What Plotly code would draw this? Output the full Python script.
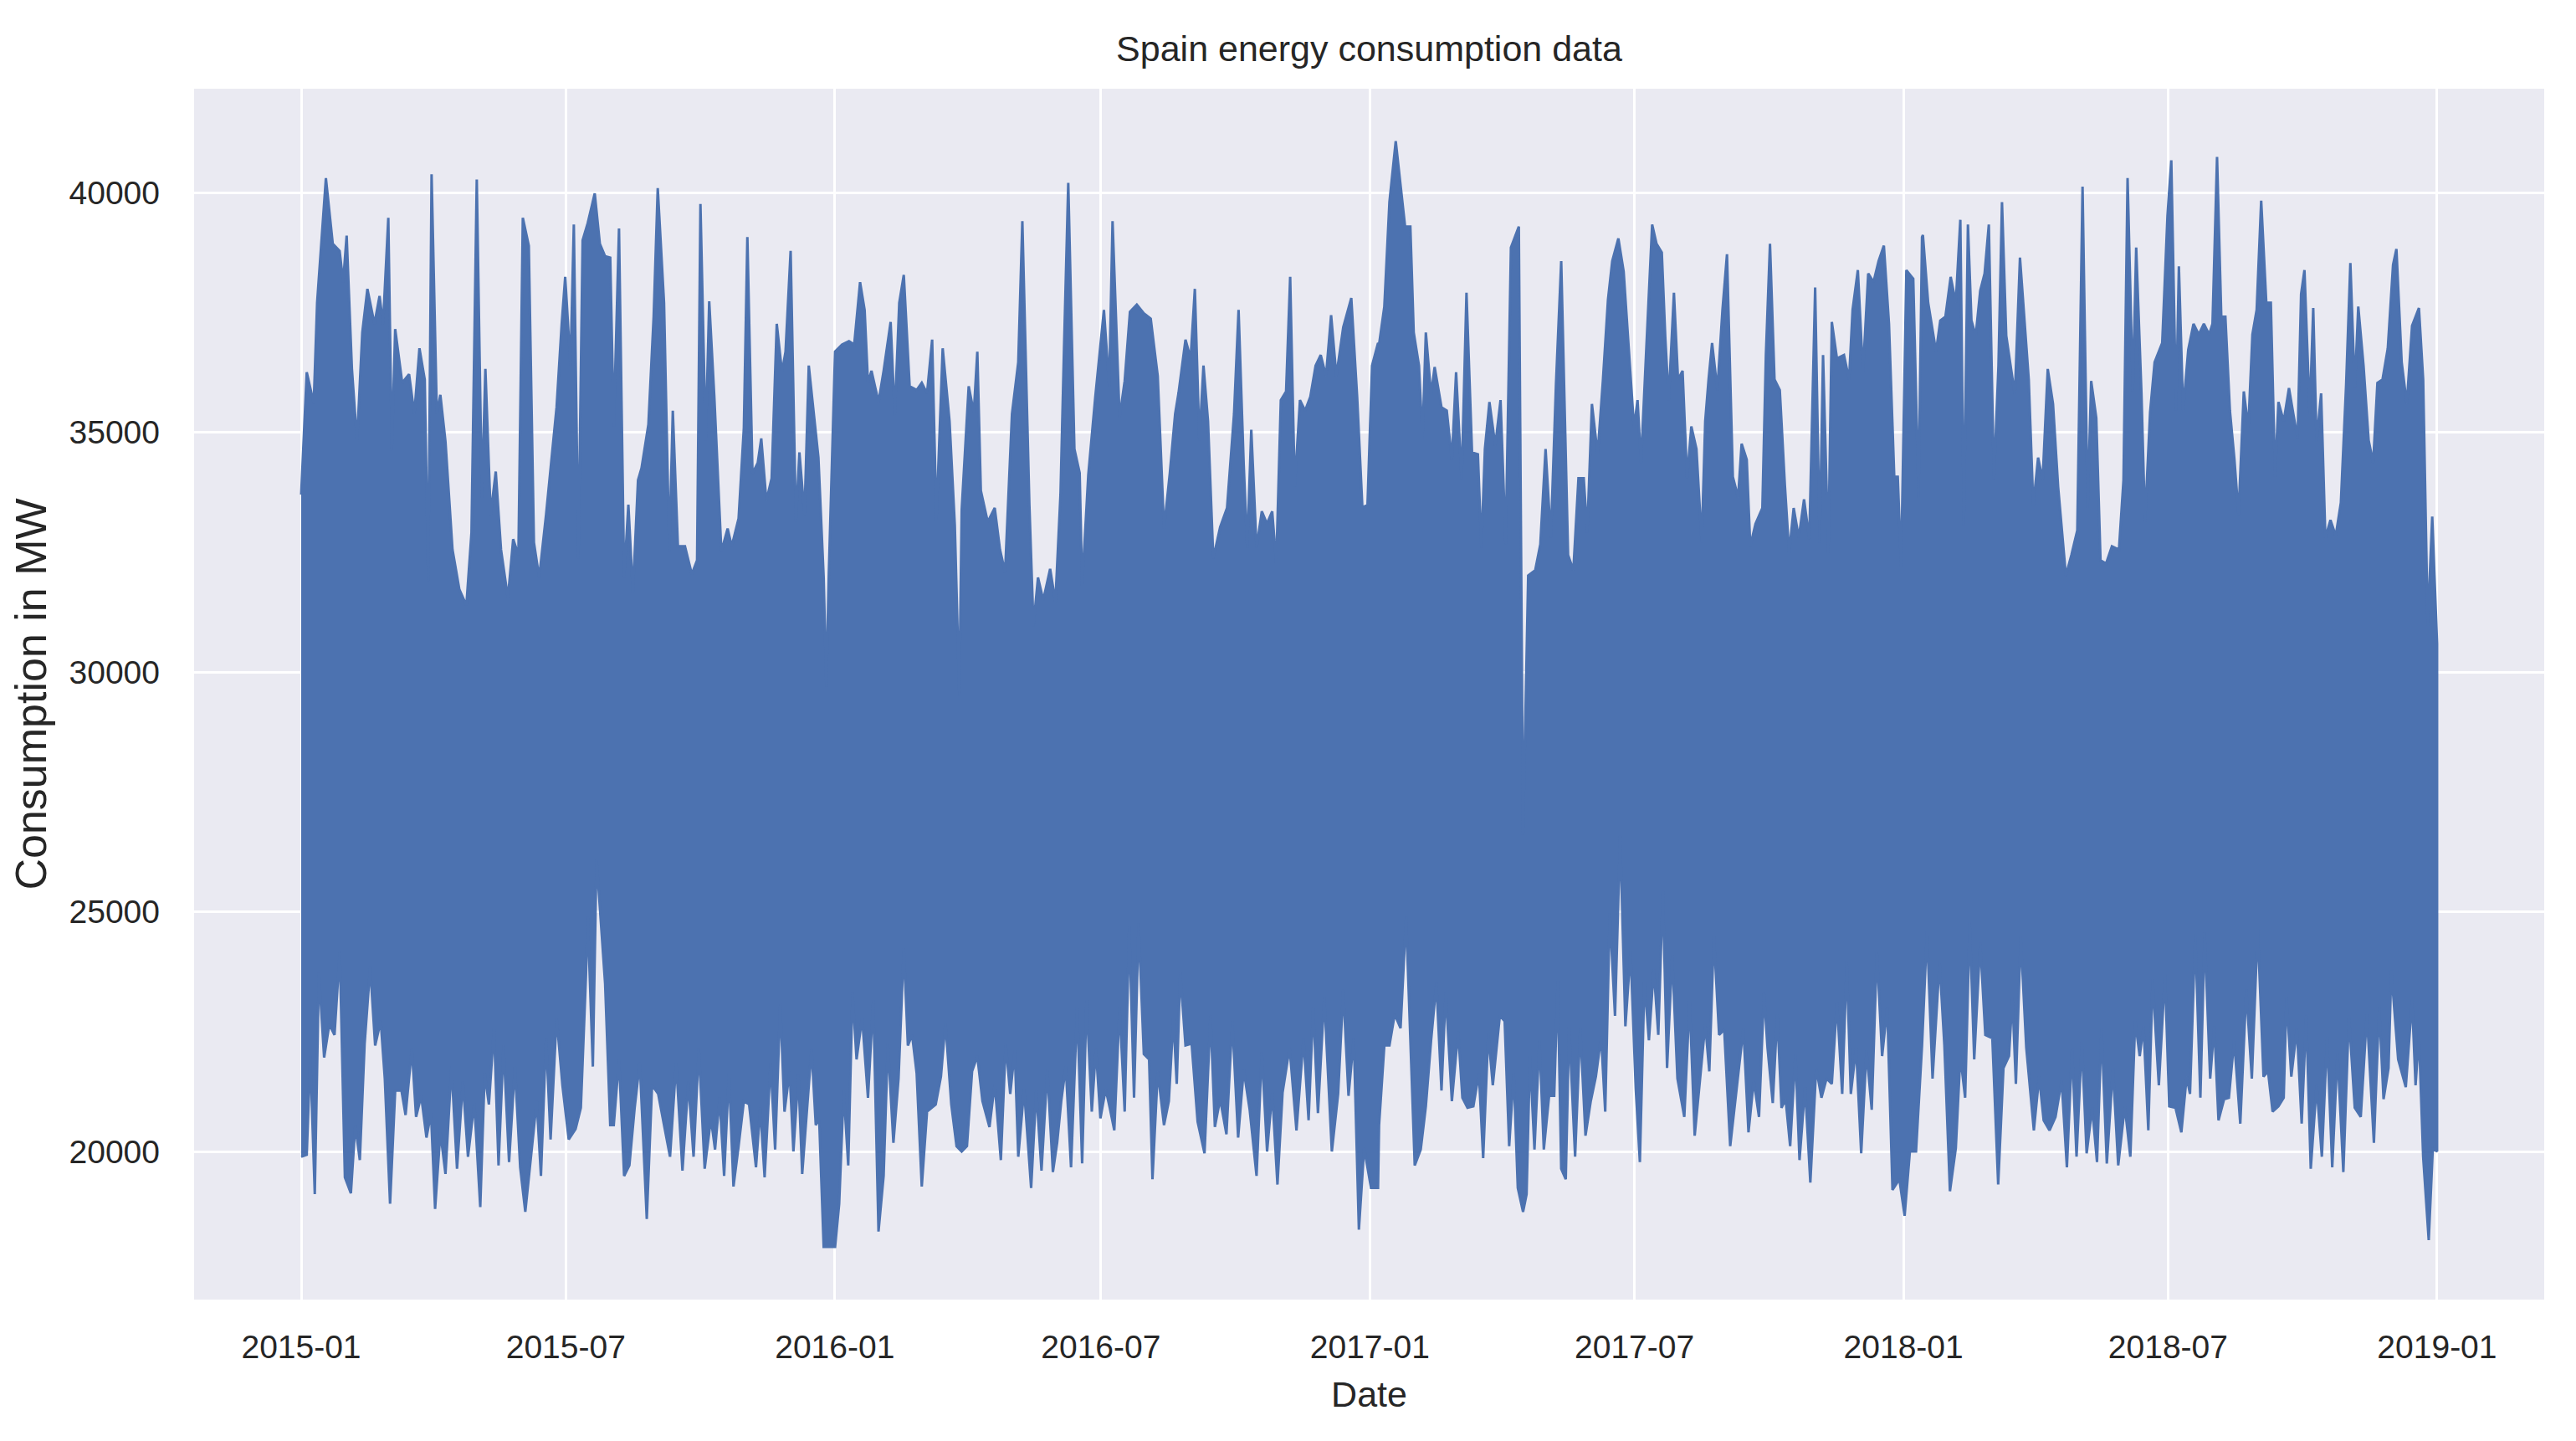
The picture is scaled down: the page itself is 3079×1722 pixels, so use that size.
import pandas as pd
import plotly.graph_objects as go

# ---- data (hourly load, shown as its upper/lower envelope)
# day offsets from 2015-01-01, consumption in MW
upper_days = [
    0, 3.8, 8.6, 10.9, 16.9, 21.6, 26.3, 28.7, 31.1, 34.7, 38.2, 41.8, 45.3, 50.1, 53.6, 56.0,
    59.6, 62.0, 64.3, 69.1, 73.8, 77.4, 80.9, 84.5, 86.9, 89.2, 92.8, 95.2, 98.7, 103.5, 108.2,
    113.0, 116.5, 120.1, 123.6, 126.0, 129.6, 133.1, 136.7, 141.4, 145.0, 148.6, 151.6, 155.7,
    159.2, 162.8, 167.5, 171.1, 174.7, 178.2, 180.6, 184.2, 186.5, 189.6, 192.5, 196.0, 200.8,
    204.3, 207.9, 211.4, 213.8, 217.4, 220.9, 223.8, 226.9, 230.4, 232.8, 237.5, 241.1, 243.9,
    248.2, 251.8, 254.2, 257.7, 262.5, 267.2, 270.8, 273.1, 276.7, 279.1, 282.6, 287.4, 291.7,
    294.5, 299.2, 302.8, 305.2, 308.7, 312.3, 314.7, 318.2, 321.8, 325.3, 328.9, 331.3, 334.8,
    338.4, 340.8, 344.3, 347.2, 350.3, 353.8, 357.4, 359.2, 360.9,
    365.2, 370.0, 374.7, 378.3, 382.3, 385.4, 387.7, 390.1, 394.9, 398.4, 403.2, 406.0, 409.1,
    412.2, 416.2, 421.0, 424.5, 428.1, 431.6, 434.5, 438.8, 443.5, 447.1, 450.2, 451.8, 456.6, 460.1,
    462.5, 464.9, 469.6, 474.4, 478.0, 481.5, 486.2, 490.5, 493.3, 498.1, 500.9, 504.0, 507.6,
    512.3, 515.9, 519.4, 521.8, 524.7, 528.9, 532.5, 534.2, 538.4, 543.2, 549.1, 552.7, 555.0,
    559.8, 563.3, 566.9, 571.6, 576.4, 581.1, 585.9, 590.2, 594.2, 597.8, 600.1, 604.9, 608.4,
    611.3, 614.4, 617.2, 620.3, 623.9, 628.6, 633.3, 638.1, 641.2, 644.7, 647.1, 649.9, 653.5,
    657.1, 660.6, 664.2, 667.0, 670.1, 673.7, 676.5, 679.6, 683.2, 686.7, 690.3, 693.9, 697.4,
    701.0, 704.5, 708.1, 712.8, 718.3, 722.3, 725.9, 729.4, 732.5, 736.6,
    737.3, 740.9, 744.4, 748.7, 752.0, 755.1, 758.7, 761.0, 764.6, 767.0, 769.3, 772.9, 775.3,
    780.0, 783.6, 787.1, 790.0, 793.8, 797.1, 800.9, 804.9, 807.3, 809.7, 812.8, 816.8, 820.4,
    823.9, 827.5, 832.9, 835.8, 839.3, 844.1, 847.6, 851.2, 854.8, 858.3, 861.9, 866.6, 870.2,
    873.7, 877.3, 879.7, 882.9, 886.8, 890.4, 893.9, 896.8, 901.0, 904.6, 908.2, 911.7, 914.1,
    916.5, 920.0, 924.1, 927.1, 930.7, 933.1, 935.4, 939.0, 941.8, 944.9, 948.0, 950.9, 954.4,
    958.0, 960.4, 962.7, 965.1, 968.7, 972.2, 975.3, 979.3, 982.9, 985.3, 988.8, 991.2, 994.8,
    999.5, 1001.9, 1004.7, 1007.8, 1011.4, 1014.9, 1017.8, 1020.9, 1024.4, 1028.0, 1031.6,
    1035.6, 1038.7, 1041.0, 1044.6, 1047.0, 1050.5, 1055.3, 1058.8, 1061.2, 1064.8, 1068.3,
    1071.9, 1075.5, 1079.0, 1082.6, 1086.1, 1089.7, 1092.1, 1094.4, 1098.0, 1102.7, 1106.3, 1108.7,
    1109.3, 1112.9, 1115.2, 1118.3, 1121.2, 1124.7, 1128.3, 1131.8, 1134.9, 1137.3, 1140.1,
    1142.5, 1145.4, 1148.5, 1151.5, 1154.4, 1157.9, 1161.0, 1163.4, 1166.3, 1169.8, 1172.2,
    1175.7, 1178.6, 1181.7, 1184.8, 1188.1, 1191.2, 1194.7, 1198.3, 1201.8, 1207.1, 1210.9,
    1214.9, 1218.5, 1222.0, 1224.4, 1227.9, 1230.8, 1234.6, 1238.6, 1243.4, 1246.5, 1249.3,
    1252.9, 1255.2, 1258.8, 1261.2, 1264.7, 1267.8, 1273.0, 1276.6, 1279.2, 1282.5, 1284.4,
    1287.3, 1290.8, 1294.4, 1298.0, 1301.5, 1305.1, 1307.4, 1310.5, 1313.4, 1316.2, 1319.3,
    1322.4, 1325.2, 1328.8, 1331.9, 1334.7, 1337.6, 1340.7, 1344.2, 1347.3, 1350.2, 1352.5,
    1356.1, 1359.7, 1362.7, 1365.6, 1368.0, 1370.3, 1373.9, 1376.3, 1378.6, 1381.7, 1384.6,
    1388.1, 1391.7, 1395.2, 1398.8, 1401.7, 1404.7, 1407.1, 1410.7, 1414.2, 1417.3, 1420.2,
    1423.7, 1427.3, 1430.9, 1433.2, 1436.8, 1440.3, 1443.9, 1448.6, 1451.5, 1454.6, 1457.7, 1461.0,
]
upper_mw = [
    33700, 36250, 35600, 37700, 40300, 38930, 38780, 38130, 39100, 36320, 34800, 37080, 37990, 37260, 37840, 37260,
    39470, 34620, 37150, 36030, 36210, 35380, 36750, 36100, 31900, 40380, 35380, 35780, 34800, 32550, 31720,
    31390, 32910, 40270, 33640, 36320, 33280, 34180, 32550, 31540, 32770, 32440, 39470, 38890,
    32700, 31970, 33280, 34430, 35520, 37260, 38240, 36390, 39330, 32370, 39000, 39360, 39980,
    38930, 38670, 38640, 35120, 39250, 31970, 33490, 31650, 34000, 34250, 35160, 37410, 40090,
    37700, 32510, 35450, 32620, 32620, 32040, 32330, 39760, 34830, 37730, 35740, 32510, 32990,
    32620, 33200, 35090, 39070, 34140, 34360, 34870, 33570, 34040, 37260, 36250, 36680, 38780,
    33130, 34580, 33280, 36390, 35450, 34470, 31970, 29700, 32040,
    36680, 36830, 36900, 36830, 38130, 37550, 36030, 36280, 35630, 36280, 37300, 35340, 37700,
    38280, 35960, 35880, 36030, 35810, 36930, 33170, 36750, 35230, 33060, 29500, 33380, 35960, 35410,
    36680, 33780, 33130, 33420, 32550, 32080, 35380, 36460, 39400, 33490, 30960, 31970, 31500,
    32150, 31460, 33710, 36750, 40200, 34650, 34150, 31790, 34110, 35740, 37550, 35960, 39400,
    35300, 36070, 37510, 37660, 37480, 37370, 36170, 32990, 34150, 35380, 35810, 36930, 36540,
    37990, 34830, 36390, 35230, 32370, 33020, 33420, 35380, 37550, 34330, 32590, 35050, 32590,
    33350, 33090, 33350, 32260, 35670, 35850, 38240, 33860, 35670, 35450, 35740, 36390, 36610,
    36170, 37440, 36170, 37190, 37800, 35740, 33420, 33490, 36390, 36860,
    36830, 37620, 39800, 41070, 40160, 39290, 39290, 37080, 36390, 34870, 37080, 35780, 36360,
    35520, 35450, 34430, 36250, 34000, 37910, 34580, 34540, 32590, 34650, 35630, 34720, 35670,
    32660, 38850, 39290, 26600, 32010, 32120, 32660, 34650, 32800, 35990, 38570, 32440, 32120,
    34040, 34040, 32910, 35590, 34540, 36070, 37770, 38570, 39040, 38350, 36750, 35090, 35670,
    34360, 36680, 39330, 38930, 38750, 36970, 35670, 37910, 36100, 36280, 34040, 35120, 34650,
    32700, 35230, 36100, 36860, 35880, 37550, 38710, 34070, 33640, 34760, 34430, 32620, 33090,
    33420, 36610, 38930, 36100, 35880, 33890, 32480, 33420, 32800, 33600, 32770,
    38020, 32700, 36610, 32480, 37300, 36540, 36610, 36100, 37550, 38380, 36250,
    38310, 38130, 38570, 38890, 37260, 34070, 34070, 32190, 38380, 38200, 33640, 39070,
    39110, 37700, 37260, 36680, 37330, 37410, 38240, 37700, 39430, 33060, 39330,
    37330, 37010, 37950, 38310, 39330, 34000, 36390, 39800, 37010, 36280, 35780,
    38640, 37330, 36100, 33460, 34470, 34000, 36320, 35590, 33860, 32010, 32440,
    32950, 40120, 33420, 36070, 35300, 32330, 32260, 32620, 32550, 34000, 40300,
    35850, 38850, 35810, 33130, 35410, 36460, 36860, 39510, 40670, 35450, 38460,
    35450, 36720, 37260, 37040, 37260, 37040, 37260, 40740, 37410, 37410, 35450,
    34430, 33280, 35850, 35090, 37040, 37550, 39830, 37700, 37700, 34070, 35630,
    35230, 35920, 35380, 34870, 37880, 38380, 35380, 37590, 34800, 35810, 32800,
    33170, 32840, 33530, 35990, 38530, 35920, 37620, 36390, 34830, 34360, 36030,
    36100, 36750, 38490, 38820, 36460, 35590, 37220, 37590, 36100, 30960, 33240, 30590,
]

lower_days = [
    0, 3.8, 6.2, 9.3, 12.1, 15.7, 19.2, 22.8, 26.4, 29.9, 34.0, 37.0, 40.1, 43.4, 47.2, 50.6,
    54.4, 57.2, 60.8, 64.3, 68.6, 71.4, 75.7, 78.6, 82.1, 85.7, 88.8, 91.6, 95.2, 98.7, 102.8,
    106.6, 110.6, 114.1, 118.4, 122.5, 125.5, 128.4, 131.9, 135.0, 138.4, 142.2, 146.2, 149.8,
    153.3, 156.9, 161.1, 164.0, 167.5, 170.6, 174.7, 178.7, 183.0, 187.7, 191.3, 194.8, 196.0,
    199.5, 202.0, 207.9, 211.4, 213.8, 217.4, 220.9, 224.5, 228.1, 231.6, 236.4, 240.0, 244.2,
    248.2, 252.3, 256.5, 260.8, 264.8, 268.4, 272.0, 276.0, 280.3, 283.1, 286.2, 289.3, 292.6,
    295.7, 299.2, 302.8, 306.4, 311.1, 314.0, 317.0, 321.1, 324.2, 327.7, 330.6, 334.1, 336.7,
    340.1, 342.7, 346.2, 349.1, 352.0, 354.3, 357.4, 363.3,
    365.2, 368.0, 371.1, 374.2, 377.1, 379.9, 383.7, 387.7, 391.3, 394.9, 398.4, 401.3, 405.1,
    408.6, 412.2, 415.0, 417.9, 421.0, 424.5, 428.1, 434.0, 437.6, 440.7, 444.7, 448.3, 451.8,
    455.4, 458.9, 462.5, 466.0, 470.8, 474.4, 478.6, 481.9, 485.0, 488.1, 490.5, 494.5, 499.3,
    502.8, 506.4, 510.4, 514.2, 517.1, 519.9, 523.0, 526.6, 530.8, 534.2, 537.2, 540.8, 543.6,
    546.7, 550.3, 553.1, 556.2, 559.8, 563.3, 566.4, 569.7, 572.8, 576.4, 580.0, 582.3, 585.9,
    590.2, 593.5, 596.6, 598.9, 601.3, 604.9, 609.1, 613.2, 617.9, 622.0, 625.0, 628.6, 632.9,
    636.9, 640.9, 644.7, 648.8, 653.5, 657.1, 660.7, 664.2, 667.8, 671.3, 676.1, 680.8, 685.6,
    689.1, 692.2, 695.5, 699.8, 705.0, 709.3, 712.8, 716.4, 720.0, 723.5, 727.1, 731.8, 736.6,
    737.3, 740.9, 744.4, 748.0, 752.0, 755.8, 758.7, 761.7, 765.8, 769.3, 772.9, 776.5, 780.0,
    782.9, 787.1, 791.4, 794.3, 797.8, 801.8, 805.6, 808.5, 812.0, 815.1, 819.9, 823.2, 826.3,
    829.4, 832.2, 835.8, 838.2, 840.5, 843.6, 847.0, 850.0, 853.6, 857.1, 859.5, 861.9, 865.0,
    867.3, 871.4, 874.9, 878.5, 882.1, 885.6, 889.2, 892.0, 895.1, 898.7, 902.2, 905.8, 909.3,
    912.9, 915.7, 918.8, 921.9, 925.2, 928.3, 931.4, 934.3, 937.8, 941.4, 946.1, 949.7, 953.2,
    956.8, 960.4, 963.2, 966.3, 969.9, 973.4, 977.5, 981.7, 986.5, 990.0, 993.6, 997.2, 1000.6,
    1003.0, 1006.6, 1009.7, 1012.6, 1015.4, 1018.5, 1022.1, 1024.9, 1028.7, 1032.3, 1036.3,
    1039.9, 1043.4, 1047.0, 1050.5, 1054.1, 1057.2, 1060.0, 1063.6, 1067.1, 1070.7, 1074.3,
    1077.8, 1081.4, 1084.9, 1088.5, 1093.2, 1096.8, 1100.4, 1104.6, 1108.7,
    1109.3, 1112.1, 1115.9, 1120.7, 1124.0, 1127.8, 1131.8, 1134.9, 1138.2, 1141.3, 1144.4,
    1148.5, 1152.0, 1156.8, 1160.8, 1164.4, 1168.2, 1170.5, 1172.9, 1176.2, 1180.0, 1185.2,
    1188.8, 1191.9, 1195.9, 1200.0, 1204.2, 1207.8, 1211.3, 1214.4, 1218.0, 1221.3, 1225.1,
    1228.4, 1231.5, 1235.1, 1239.3, 1242.9, 1247.4, 1251.2, 1254.5, 1257.6, 1260.2, 1263.5,
    1266.4, 1270.7, 1274.9, 1277.8, 1282.1, 1286.1, 1289.7, 1292.0, 1295.6, 1299.1, 1302.0,
    1305.8, 1308.6, 1311.5, 1315.3, 1318.6, 1322.2, 1326.4, 1330.5, 1334.3, 1338.3, 1342.3,
    1345.4, 1348.5, 1352.5, 1356.1, 1358.0, 1361.3, 1365.1, 1368.4, 1371.5, 1374.6, 1378.6,
    1382.2, 1385.8, 1389.3, 1392.9, 1396.9, 1400.7, 1404.7, 1408.8, 1413.0, 1417.8, 1421.4,
    1424.4, 1427.8, 1429.7, 1434.4, 1439.6, 1443.9, 1446.3, 1448.6, 1451.5, 1455.3, 1458.1, 1461.0,
]
lower_mw = [
    19890, 19930, 21990, 19110, 23730, 21960, 22650, 22430, 24170, 19460, 19130, 20550, 19820, 22250, 23840, 22210,
    22720, 21520, 18910, 21270, 21270, 20760, 22140, 20720, 21160, 20290, 20800, 18800, 20400, 19530, 21770,
    19640, 21450, 19890, 21010, 18840, 21630, 20980, 22570, 19710, 22210, 19780, 21770, 19670,
    18740, 19780, 21050, 19490, 22360, 20250, 22790, 21380, 20250, 20470, 20910, 23660, 24890,
    21770, 26100, 23500, 20550, 20550, 21920, 19490, 19710, 20910, 21850, 18590, 21380, 21200,
    20550, 19890, 21850, 19600, 21450, 19890, 22140, 19640, 20690, 20040, 21120, 19490, 21630,
    19270, 20110, 21050, 20980, 19670, 20910, 19460, 21850, 20040, 23080, 20830, 21670, 20000,
    21590, 19530, 20940, 22140, 20550, 20690, 18010, 18010,
    18010, 18910, 21270, 19710, 23300, 21920, 22790, 21120, 23150, 18330, 19490, 22250, 20180,
    21520, 24240, 22210, 22430, 21630, 19270, 20830, 20980, 21560, 22680, 20980, 20110, 20000,
    20110, 21670, 21990, 21050, 20510, 21410, 19820, 22250, 21200, 22100, 19890, 21300, 19240,
    21270, 19600, 21700, 19570, 20180, 21050, 21770, 19670, 23010, 19750, 23150, 20830, 22140,
    20690, 21300, 20910, 20440, 23010, 20830, 24710, 21120, 24750, 22030, 21920, 19420, 21670,
    20550, 21050, 22790, 21410, 23730, 22210, 22250, 20620, 19960, 22830, 20510, 21090, 20360,
    22720, 20290, 21700, 20870, 19490, 22070, 20000, 21230, 19310, 21230, 22170, 20440, 22360,
    20650, 23010, 20800, 23220, 20000, 21200, 23370, 21160, 22360, 18370, 20070, 19240, 19240,
    20550, 22210, 22210, 22860, 22570, 24890, 22170, 19710, 20040, 20940, 22320, 23510, 21270,
    23330, 21050, 22500, 21120, 20910, 20940, 21630, 19860, 22460, 21380, 22830, 22720, 20110,
    21630, 19240, 18740, 19110, 21990, 20040, 22320, 20040, 21160, 21160, 23550, 19640, 19420,
    22610, 19890, 22570, 20330, 21050, 21560, 22390, 20830, 24960, 22830, 26590, 22610, 24170,
    21300, 19780, 23550, 22320, 23800, 22430, 25440, 21740, 24090, 21520, 20720, 23150, 20330,
    21480, 22650, 21670, 24490, 22430, 22540, 20110, 21300, 22570, 20400, 21480, 20720, 23300,
    22170, 21010, 22860, 20910, 21090, 20110, 22030, 19820, 21340, 19350, 21740,
    21120, 21520, 21410, 23120, 21200, 23950, 21200, 22170, 19960, 22100, 20870,
    24170, 21990, 23010, 19200, 19420, 18660, 20000, 20000, 22210,
    22360, 24600, 21520, 23950, 22210, 19170, 20070, 21990, 21120, 24780, 21920,
    24350, 22430, 22360, 19310, 21740, 21990, 23220, 21410, 24490, 22170, 20440,
    21560, 20650, 20440, 20720, 21480, 19670, 22140, 19890, 22280, 19960, 20910,
    19780, 22570, 19750, 21740, 19710, 20940, 19890, 22720, 21990, 22610, 20440,
    23590, 21380, 23700, 20940, 20910, 20400, 21560, 21200, 24530, 21120, 24560,
    21520, 22610, 20650, 21090, 21120, 22320, 20580, 23370, 21520, 24640, 21560,
    21670, 20830, 20940, 21120, 23220, 21560, 22570, 20580, 22830, 19640, 21380,
    19890, 22390, 19670, 22060, 19570, 22830, 20910, 20720, 22860, 20180, 23010,
    21090, 21740, 23770, 21920, 21340, 23150, 21380, 22430, 19890, 18150, 20070, 20000,
]

x_tick_label_format = "%Y-%m"
y_ticks = [20000, 25000, 30000, 35000, 40000]

# ---- build one closed outline: upper edge left->right, lower edge right->left
start = pd.Timestamp("2015-01-01")
up_x = start + pd.to_timedelta(upper_days, unit="D")
lo_x = start + pd.to_timedelta(lower_days, unit="D")
xs = list(up_x) + list(lo_x[::-1])
ys = upper_mw + lower_mw[::-1]

blue = "#4C72B0"
fig = go.Figure()
fig.add_trace(go.Scatter(
    x=xs, y=ys,
    mode="lines",
    fill="toself",
    fillcolor=blue,
    line=dict(color=blue, width=3),
    showlegend=False,
    hoverinfo="skip",
))

font_family = "Liberation Sans, Arial, sans-serif"
text_color = "#262626"

fig.update_layout(
    width=3079,
    height=1722,
    margin=dict(l=224, r=46, t=98, b=177),
    paper_bgcolor="white",
    plot_bgcolor="#EAEAF2",
    font=dict(family=font_family, color=text_color, size=39),
    title=dict(
        text="Spain energy consumption data",
        x=0.5, xref="paper", xanchor="center",
        y=1 - 50 / 1722, yref="container", yanchor="middle",
        font=dict(size=43, color=text_color),
    ),
)
fig.update_xaxes(
    title=dict(text="Date", font=dict(size=43), standoff=20),
    type="date",
    range=["2014-10-19 18:00", "2019-03-15 07:00"],
    tick0="2015-01-01", dtick="M6", tickformat=x_tick_label_format,
    showgrid=True, gridcolor="white", gridwidth=3,
    zeroline=False, showline=False, ticks="",
    ticklabelstandoff=30,
    tickfont=dict(size=39),
    automargin=False,
)
fig.update_yaxes(
    title=dict(text="Consumption in MW", font=dict(size=52), standoff=20),
    range=[16911, 42164],
    tickvals=y_ticks, tickformat="d",
    showgrid=True, gridcolor="white", gridwidth=3,
    zeroline=False, showline=False, ticks="",
    ticklabelstandoff=40,
    tickfont=dict(size=39),
    automargin=False,
)

fig.write_html("out.html")
